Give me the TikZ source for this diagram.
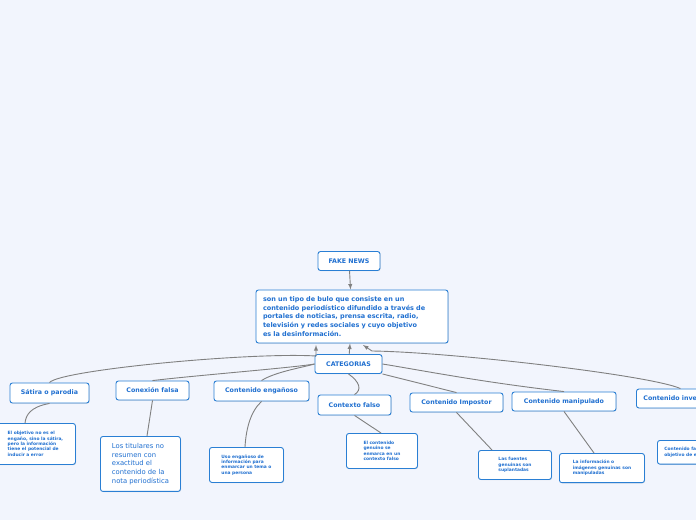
\documentclass[tikz,border=0pt]{standalone}
\usepackage{fontspec}
\setmainfont{DejaVu Sans}
\usetikzlibrary{shadows}
\definecolor{bg}{HTML}{F2F5FD}
\definecolor{tx}{HTML}{1F6FD0}
\definecolor{bd}{HTML}{2A7FD4}
\definecolor{ln}{HTML}{808080}
\tikzset{
 box/.style={draw=bd,line width=0.9pt,fill=white,rounded corners=2.5pt,text=tx,font=\bfseries\fontsize{6.3}{7}\selectfont,inner sep=2pt,align=center,drop shadow={opacity=0.25,shadow xshift=0.6pt,shadow yshift=-0.6pt}},
 leaf/.style={box,font=\bfseries\fontsize{4.4}{5.4}\selectfont,align=left,anchor=north west,inner sep=4pt},
 con/.style={draw=ln,line width=0.9pt},
 arr/.style={con,-latex}
}
\begin{document}
\begin{tikzpicture}[x=1pt,y=-1pt]
\fill[bg] (0,0) rectangle (696,520);
\useasboundingbox (0,0) rectangle (696,520);
\node[box,minimum width=62pt,minimum height=19pt] (fake) at (349,261) {FAKE NEWS};
\node[box,align=left,text width=178pt,inner xsep=7pt,minimum height=53pt,font=\bfseries\fontsize{6.5}{8.6}\selectfont] (def) at (352,316.5) {son un tipo de bulo que consiste en un\\contenido periodístico difundido a través de\\portales de noticias, prensa escrita, radio,\\televisión y redes sociales y cuyo objetivo\\es la desinformación.};
\node[box,minimum width=67pt,minimum height=19pt] (cat) at (348.5,364) {CATEGORIAS};
\node[box,minimum width=79pt,minimum height=20pt] (c1) at (49.5,393) {Sátira o parodia};
\node[box,minimum width=73pt,minimum height=19pt] (c2) at (152.5,390.5) {Conexión falsa};
\node[box,minimum width=95pt,minimum height=20pt] (c3) at (261.5,391) {Contenido engañoso};
\node[box,minimum width=73pt,minimum height=20pt] (c4) at (354.5,405) {Contexto falso};
\node[box,minimum width=93pt,minimum height=19pt] (c5) at (456.5,402.5) {Contenido Impostor};
\node[box,minimum width=104pt,minimum height=19pt] (c6) at (564,401.5) {Contenido manipulado};
\node[box,anchor=west,minimum height=19pt,inner sep=7pt] (c7) at (636,398.5) {Contenido inventado};
\node[leaf,minimum width=80pt,minimum height=41pt] (l1) at (-5,423) {El objetivo no es el\\engaño, sino la sátira,\\pero la información\\tiene el potencial de\\inducir a error};
\node[leaf,minimum width=80pt,minimum height=53pt,font=\fontsize{6.8}{8.6}\selectfont,inner sep=7pt] (l2) at (100,436) {Los titulares no\\resumen con\\exactitud el\\contenido de la\\nota periodística};
\node[leaf,minimum width=74pt,minimum height=35pt,inner sep=7pt] (l3) at (209,447) {Uso engañoso de\\información para\\enmarcar un tema o\\una persona};
\node[leaf,minimum width=71pt,minimum height=35pt,inner sep=7pt] (l4) at (346,433) {El contenido\\genuino se\\enmarca en un\\contexto falso};
\node[leaf,minimum width=73pt,minimum height=28pt,inner sep=7pt] (l5) at (478,450) {Las fuentes\\genuinas son\\suplantadas};
\node[leaf,minimum width=85pt,minimum height=29pt,inner sep=7pt] (l6) at (559,453) {La información o\\imágenes genuinas son\\manipuladas};
\node[leaf,minimum height=23pt,inner sep=7pt] (l7) at (657,440) {Contenido falso con el\\objetivo de engañar};
\draw[arr] (fake) -- (def);
\draw[arr] (cat) -- (def);
\draw[arr] (c1.north) .. controls (60,370) and (250,352) .. (316,356) -- (316,345);
\draw[con] (c2.north) .. controls (200,375) and (290,368) .. (cat.west);
\draw[con] (c3.north) .. controls (275,372) and (300,368) .. (cat.west);
\draw[con] (c4.north) .. controls (362,390) and (360,382) .. (cat.south);
\draw[con] (c5.north) -- (cat.south east);
\draw[con] (c6.north) .. controls (480,382) and (420,370) .. (cat.east);
\draw[arr] (c7.north) .. controls (650,375) and (450,352) .. (372,351) -- (363,345);
\draw[con] (c1.south) .. controls (30,407) and (26,415) .. (l1.north -| 25,0);
\draw[con] (c2.south) -- (l2.north -| 147,0);
\draw[con] (c3.south) .. controls (250,412) and (246,430) .. (l3.north -| 245,0);
\draw[con] (c4.south) -- (l4.north -| 381,0);
\draw[con] (c5.south) -- (l5.north -| 492,0);
\draw[con] (c6.south) -- (l6.north -| 594,0);
\end{tikzpicture}
\end{document}
